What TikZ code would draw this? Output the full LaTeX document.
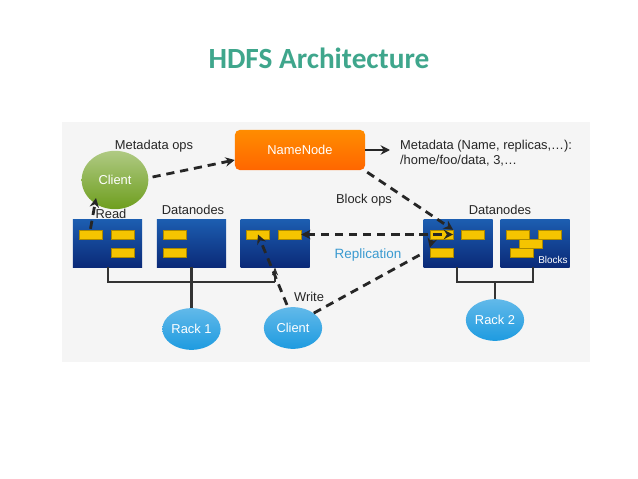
\documentclass[tikz,border=0pt]{standalone}
\usepackage{fontspec}
\setmainfont{Liberation Sans}
\newfontfamily\titlefont{Carlito}
\usetikzlibrary{positioning,arrows.meta,shapes.geometric}
\definecolor{titlegreen}{HTML}{3FA68C}
\definecolor{dnblue}{HTML}{1C5DB0}
\definecolor{dndark}{HTML}{0B2A78}
\definecolor{blockyellow}{HTML}{F5C400}
\definecolor{rackblue}{HTML}{1E9BE0}
\definecolor{repblue}{HTML}{3A9AD0}
\definecolor{clientgreen}{HTML}{6E9E1E}
\begin{document}
\begin{tikzpicture}[x=0.03cm,y=-0.03cm,
    datanode/.style={rectangle,minimum width=2.07cm,minimum height=1.41cm,inner sep=0pt,
      top color=dnblue,bottom color=dndark},
    block/.style={rectangle,minimum width=0.69cm,minimum height=0.27cm,inner sep=0pt,
      fill=blockyellow,draw=blockyellow!70!black,line width=0.3pt},
    rack/.style={ellipse,minimum width=1.75cm,minimum height=1.25cm,inner sep=0pt,
      top color=rackblue!70!white,bottom color=rackblue,text=white,font=\fontsize{11}{13}\selectfont},
    lbl/.style={font=\fontsize{11}{13}\selectfont,text=black!85},
    dasharrow/.style={dash pattern=on 7pt off 5pt,line width=2.4pt,-{Stealth[length=8pt,width=8pt]},black!85},
    rackline/.style={line width=2pt,black!80}]
  \useasboundingbox (0,0) rectangle (638,479);
  \fill[black!4] (62,122) rectangle (590,362);
  \node[font=\titlefont\bfseries\fontsize{25}{28}\selectfont,text=titlegreen] (title) at (319,58) {HDFS Architecture};

  % namenode and clients
  \node[rectangle,rounded corners=4pt,minimum width=3.9cm,minimum height=1.2cm,
    top color=orange!90!yellow,bottom color=orange!80!red,text=white,font=\fontsize{11}{13}\selectfont] (nn) at (300,150) {NameNode};
  \node[ellipse,minimum width=2cm,minimum height=1.75cm,inner sep=0pt,
    top color=clientgreen!55!white,bottom color=clientgreen,text=white,font=\fontsize{11}{13}\selectfont] (client) at (115,180) {Client};
  \node[lbl] (mdops) at (154,146) {Metadata ops};
  \node[lbl,anchor=west,align=left] (meta) at (396,153) {Metadata (Name, replicas,\dots):\\/home/foo/data, 3,\dots};
  \node[lbl] (blockops) at (364,200) {Block ops};

  % datanodes
  \node[datanode] (dn1) at (107.5,243.5) {};
  \node[datanode] (dn2) at (191.5,243.5) {};
  \node[datanode] (dn3) at (275,243.5) {};
  \node[datanode] (dn4) at (458,243.5) {};
  \node[datanode] (dn5) at (535,243.5) {};
  \node[lbl] (dnl1) at (193,210) {Datanodes};
  \node[lbl] (dnl2) at (500,210) {Datanodes};
  \node[lbl] (read) at (111,214) {Read};

  % blocks
  \node[block] (b11) at (90.5,234.5) {};
  \node[block] (b12) at (123,234.5) {};
  \node[block] (b13) at (123,252.5) {};
  \node[block] (b21) at (174.5,234.5) {};
  \node[block] (b22) at (174.5,252.5) {};
  \node[block] (b31) at (258,234.5) {};
  \node[block] (b32) at (289.5,234.5) {};
  \node[block] (b41) at (441.5,234.5) {};
  \node[block] (b42) at (473,234.5) {};
  \node[block] (b43) at (441.5,252.5) {};
  \node[block] (b51) at (518,234.5) {};
  \node[block] (b52) at (549.5,234.5) {};
  \node[block] (b53) at (530.5,243.5) {};
  \node[block] (b54) at (521.5,252.5) {};
  \node[text=white,font=\fontsize{8.5}{10}\selectfont] (blocks) at (553,260) {Blocks};
  \node[font=\fontsize{11.5}{13}\selectfont,text=repblue] (repl) at (368,255) {Replication};

  % racks and writing client
  \node[rack] (rack1) at (191.5,329) {Rack 1};
  \node[rack] (client2) at (293,328) {Client};
  \node[rack] (rack2) at (495,320) {Rack 2};
  \node[lbl] (write) at (309,297) {Write};
  \coordinate (r1l) at (108,282);
  \coordinate (r1m) at (191.5,282);
  \coordinate (r1r) at (275,282);
  \coordinate (r2l) at (457,282);
  \coordinate (r2m) at (495,282);
  \coordinate (r2r) at (533,282);
  \coordinate (readend) at (96,198);

  \draw[rackline] (dn1.south -| r1l) -- (r1l) -- (r1r);
  \draw[rackline,-{Stealth[length=7pt]}] (r1r) -- (dn3.south -| r1r);
  \draw[rackline] (dn2.south) -- (rack1.north);
  \draw[rackline] (dn4.south -| r2l) -- (r2l) -- (r2r) -- (dn5.south -| r2r);
  \draw[rackline] (r2m) -- (rack2.north);

  % connectors
  \draw[dasharrow] (client.east) ++(4,-3) -- (nn.west |- 0,160);
  \draw[line width=2.4pt,black!85,-{Stealth[length=8pt,width=8pt]}] (nn.east) -- (390,150);
  \draw[dasharrow] (nn.south east) ++(2,2) -- (b41.north east);
  \draw[dasharrow] (b11.north) ++(0,-1) -- (readend);
  \draw[dasharrow,{Stealth[length=8pt,width=8pt]}-{Stealth[length=8pt,width=8pt]}] (b32.east) -- (b41.east);
  \draw[dasharrow] (b41.south west) ++(2,1) -- (b43.north west);
  \draw[dasharrow] (client2.north) ++(-6,-2) -- (b31.center);
  \draw[dasharrow,-] (client2.north east) -- (dn4.west |- 0,253);
\end{tikzpicture}
\end{document}
